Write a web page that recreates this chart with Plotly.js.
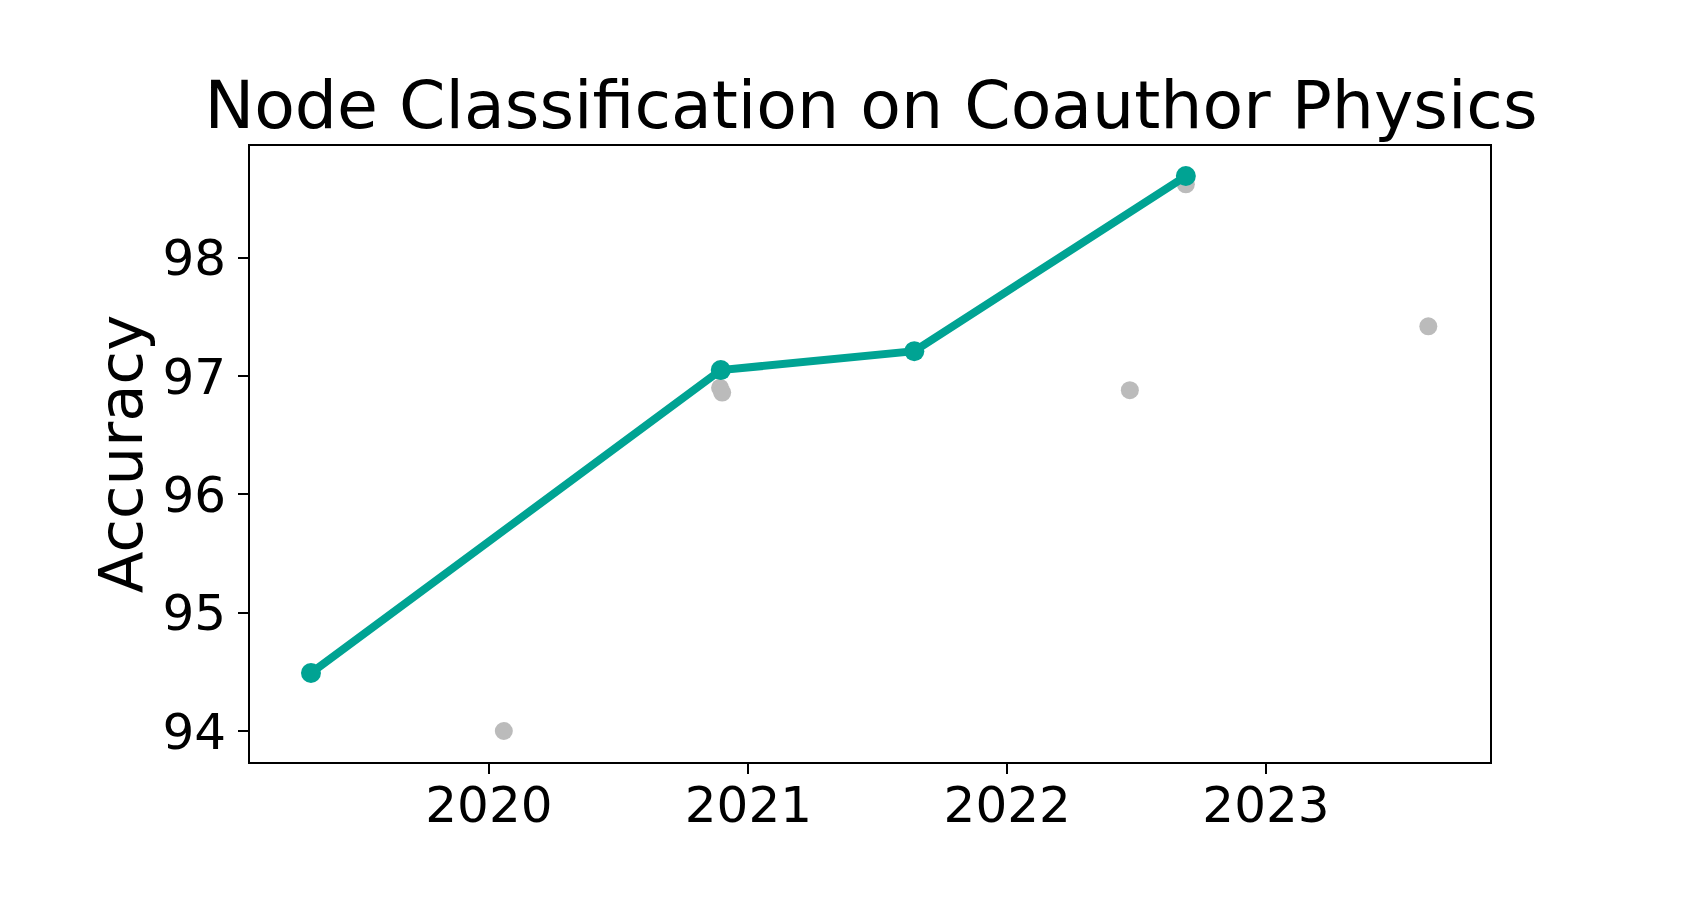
<!DOCTYPE html>
<html>
<head>
<meta charset="utf-8">
<script src="https://cdn.plot.ly/plotly-3.0.1.min.js"></script>
<style>
  html,body{margin:0;padding:0;background:#fff}
  #chart{width:1700px;height:900px}
</style>
</head>
<body>
<div id="chart"></div>
<script>
// all results (grey dots)
const allDates=['2020-01-22','2020-11-22','2020-11-25','2022-06-23','2022-09-10','2023-08-18'];
const allAcc=[94.00,96.90,96.86,96.88,98.62,97.42];
// state-of-the-art frontier (teal)
const sotaDates=['2019-04-25','2020-11-23','2021-08-23','2022-09-10'];
const sotaAcc=[94.49,97.05,97.21,98.69];
const yearTicks=['2020-01-01','2021-01-01','2022-01-01','2023-01-01'];
const yearLabels=['2020','2021','2022','2023'];
const yTicks=[94,95,96,97,98];

const TEAL='#00a393';
const GREY='#bbbbbb';
const FONT='DejaVu Sans, sans-serif';

const axisBase={
  showline:true,mirror:true,linecolor:'#000',linewidth:2,
  showgrid:false,zeroline:false,
  ticks:'outside',ticklen:10,tickwidth:2,tickcolor:'#000',
  tickfont:{family:FONT,size:50,color:'#000'}
};

Plotly.newPlot('chart',[
  {
    type:'scatter',mode:'markers',x:allDates,y:allAcc,
    marker:{color:GREY,size:18},hoverinfo:'x+y',showlegend:false
  },
  {
    type:'scatter',mode:'lines+markers',x:sotaDates,y:sotaAcc,
    line:{color:TEAL,width:8},marker:{color:TEAL,size:20},showlegend:false
  }
],{
  width:1700,height:900,
  paper_bgcolor:'#fff',plot_bgcolor:'#fff',
  margin:{l:250,r:210,t:146,b:138},
  font:{family:FONT,color:'#000'},
  title:{
    text:'Node Classification on Coauthor Physics',
    font:{family:FONT,size:66.5,color:'#000'},
    x:871/1700,xref:'container',xanchor:'center',
    y:1-105/900,yref:'container',yanchor:'middle'
  },
  xaxis:Object.assign({},axisBase,{
    type:'date',
    range:['2019-01-29','2023-11-13'],
    tickvals:yearTicks,ticktext:yearLabels,
    ticklabelstandoff:-12
  }),
  yaxis:Object.assign({},axisBase,{
    range:[93.738,98.944],
    tickvals:yTicks,ticktext:yTicks.map(String),
    ticklabelstandoff:2,
    title:{text:'Accuracy',font:{family:FONT,size:61,color:'#000'},standoff:0}
  })
},{displayModeBar:false,staticPlot:true});
</script>
</body>
</html>
